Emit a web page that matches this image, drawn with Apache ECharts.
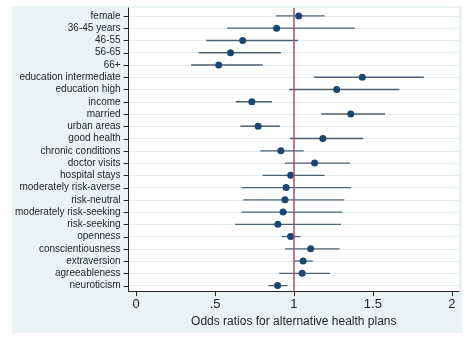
<!DOCTYPE html>
<html>
<head>
<meta charset="utf-8">
<script src="https://cdn.jsdelivr.net/npm/echarts@6/dist/echarts.min.js"></script>
<style>
  html, body { margin: 0; padding: 0; background: #ffffff; width: 474px; height: 340px; overflow: hidden; }
  #chart { position: absolute; left: 12px; top: 6px; width: 450px; height: 327px; background: #eaf2f3; }
</style>
</head>
<body>
<div id="chart"></div>
<script>
// Covariates, top to bottom
const categories = [
  'female', '36-45 years', '46-55', '56-65', '66+',
  'education intermediate', 'education high', 'income', 'married', 'urban areas',
  'good health', 'chronic conditions', 'doctor visits', 'hospital stays',
  'moderately risk-averse', 'risk-neutral', 'moderately risk-seeking', 'risk-seeking',
  'openness', 'conscientiousness', 'extraversion', 'agreeableness', 'neuroticism'
];
// Odds ratio point estimates
const oddsRatios = [
  1.03, 0.89, 0.675, 0.598, 0.523,
  1.433, 1.271, 0.733, 1.36, 0.773,
  1.183, 0.917, 1.131, 0.979,
  0.95, 0.943, 0.931, 0.898,
  0.979, 1.106, 1.058, 1.052, 0.896
];
// 95% confidence interval bounds
const ciLower = [
  0.885, 0.577, 0.444, 0.396, 0.348,
  1.127, 0.969, 0.631, 1.173, 0.66,
  0.975, 0.787, 0.943, 0.802,
  0.667, 0.679, 0.667, 0.627,
  0.923, 0.944, 1.002, 0.906, 0.838
];
const ciUpper = [
  1.194, 1.385, 1.027, 0.917, 0.802,
  1.823, 1.668, 0.86, 1.577, 0.91,
  1.439, 1.062, 1.354, 1.194,
  1.36, 1.319, 1.306, 1.298,
  1.042, 1.29, 1.119, 1.229, 0.96
];
// x-axis ticks
const xTickValues = [0, 0.5, 1, 1.5, 2];
const xTickLabels = ['0', '.5', '1', '1.5', '2'];
const xTitle = 'Odds ratios for alternative health plans';

const rowIdx = categories.map((_, i) => i);
const ciData = categories.map((_, i) => [ciLower[i], ciUpper[i], i]);
const pointData = categories.map((_, i) => [oddsRatios[i], i]);

const FONT = '"Liberation Sans", Arial, Helvetica, sans-serif';
const INK = '#262626';
const TICK_LEN = 5;
const X_RANGE = { min: -0.048, max: 2.046 };
const Y_RANGE = { min: -0.65, max: 22.45 };

const chart = echarts.init(document.getElementById('chart'));

chart.setOption({
  animation: false,
  backgroundColor: 'transparent',
  grid: {
    left: 112, right: 3, top: 2, bottom: 34,
    show: true, backgroundColor: '#ffffff', borderWidth: 0
  },
  xAxis: {
    type: 'value', position: 'bottom', ...X_RANGE,
    name: xTitle,
    nameLocation: 'middle',
    nameGap: 19,
    nameTextStyle: { fontFamily: FONT, fontSize: 12, color: INK },
    axisLine: { onZero: false, lineStyle: { color: INK, width: 1 } },
    axisTick: { show: false, customValues: xTickValues },
    axisLabel: {
      customValues: xTickValues,
      margin: 7,
      fontFamily: FONT, fontSize: 13, color: INK,
      formatter: v => {
        const k = xTickValues.findIndex(t => Math.abs(t - v) < 1e-9);
        return k >= 0 ? xTickLabels[k] : '';
      }
    },
    splitLine: { show: false }
  },
  yAxis: {
    type: 'value', position: 'left', inverse: true, ...Y_RANGE,
    axisLine: { show: true, onZero: false, lineStyle: { color: INK, width: 1 } },
    axisTick: { show: false, customValues: rowIdx },
    axisLabel: {
      customValues: rowIdx,
      margin: 8,
      fontFamily: FONT, fontSize: 10, color: INK,
      formatter: v => categories[Math.round(v)] || ''
    },
    splitLine: { show: true, lineStyle: { color: '#e6edef', width: 1 } }
  },
  series: [
    {
      // confidence intervals
      type: 'custom',
      data: ciData,
      encode: { x: [0, 1], y: 2 },
      renderItem: (params, api) => {
        const a = api.coord([api.value(0), api.value(2)]);
        const b = api.coord([api.value(1), api.value(2)]);
        return {
          type: 'line',
          shape: { x1: a[0], y1: a[1], x2: b[0], y2: b[1] },
          style: { stroke: '#4d6174', lineWidth: 1.3 }
        };
      },
      markLine: {
        silent: true,
        symbol: 'none',
        label: { show: false },
        lineStyle: { color: '#a8506e', width: 1.5, type: 'solid' },
        data: [{ xAxis: 1 }]
      },
      z: 2
    },
    {
      // point estimates
      type: 'scatter',
      data: pointData,
      symbol: 'circle',
      symbolSize: 7,
      itemStyle: { color: '#1a476f', opacity: 1 },
      z: 3
    }
  ]
});

// Tick marks, positioned through the axis scales once the layout exists
const tickStyle = { stroke: INK, lineWidth: 1 };
const tickEls = [];
xTickValues.forEach(v => {
  const p = chart.convertToPixel({ gridIndex: 0 }, [v, Y_RANGE.max]);
  const x = Math.round(p[0]) + 0.5;
  tickEls.push({ type: 'line', silent: true, z: 100,
    shape: { x1: x, y1: p[1], x2: x, y2: p[1] + TICK_LEN }, style: tickStyle });
});
rowIdx.forEach(i => {
  const p = chart.convertToPixel({ gridIndex: 0 }, [X_RANGE.min, i]);
  const y = Math.round(p[1]) + 0.5;
  tickEls.push({ type: 'line', silent: true, z: 100,
    shape: { x1: p[0] - TICK_LEN, y1: y, x2: p[0], y2: y }, style: tickStyle });
});
chart.setOption({ graphic: { elements: tickEls } });
</script>
</body>
</html>
